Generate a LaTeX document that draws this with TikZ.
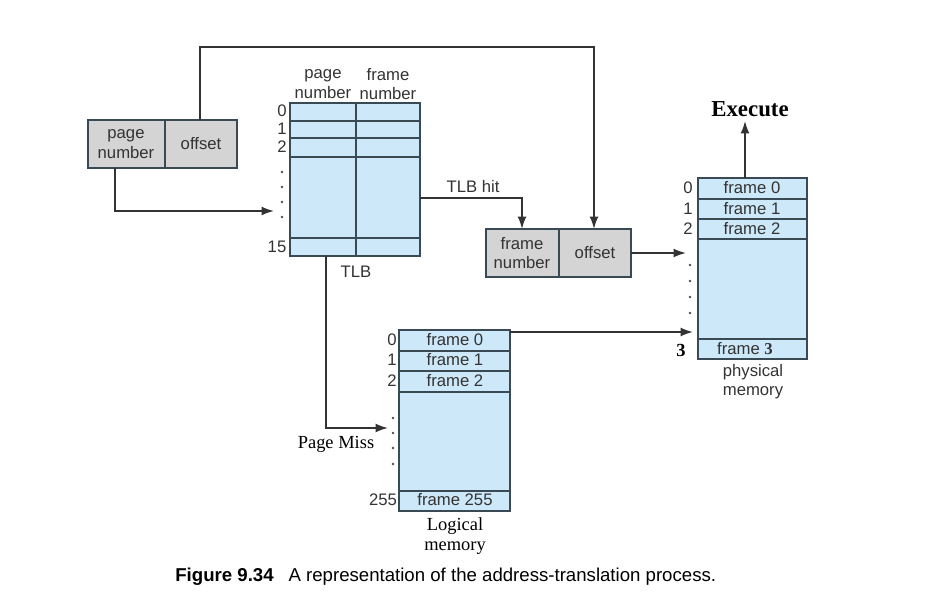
\documentclass[tikz,border=0pt]{standalone}
\usepackage{fontspec}
\setmainfont{Liberation Sans}
\newfontfamily\serifx{Liberation Serif}
\usetikzlibrary{arrows.meta}
\definecolor{memblue}{HTML}{CDE8F8}
\definecolor{boxgray}{HTML}{D4D4D4}
\definecolor{edge}{HTML}{3A4A55}
\begin{document}
\begin{tikzpicture}[x=0.02cm,y=-0.02cm,
  lbl/.style={font=\fontsize{9.5}{11}\selectfont,text=black!80,align=center,inner sep=0},
  slbl/.style={font=\serifx\fontsize{10.5}{11.5}\selectfont,align=center,inner sep=0},
  mem/.style={fill=memblue,draw=edge,line width=0.8pt},
  gbox/.style={fill=boxgray,draw=edge,line width=0.8pt},
  conn/.style={draw=black!80,line width=0.9pt},
  arr/.style={conn,-{Latex[length=7pt,width=5pt]}},
  dot/.style={circle,fill=black!70,inner sep=0,minimum size=1.6pt}]
\useasboundingbox (0,0) rectangle (940,607);
% logical address
\draw[gbox] (88,120) rectangle (237,168);
\draw[edge,line width=0.8pt] (165,120) -- (165,168);
\node[lbl] (pn) at (126,144) {page\\number};
\node[lbl] (off) at (201,144) {offset};
% TLB
\draw[mem] (290,103) rectangle (420,256);
\foreach \y in {121,138,157,238} \draw[edge,line width=0.8pt] (290,\y) -- (420,\y);
\draw[edge,line width=0.8pt] (356,103) -- (356,256);
\node[lbl] at (323,84) {page\\number};
\node[lbl] at (388,84) {frame\\number};
\node[lbl] at (282,111) {0};
\node[lbl] at (282,129) {1};
\node[lbl] at (282,147) {2};
\node[lbl] at (277,247) {15};
\foreach \y in {172,187,202,217} \node[dot] at (282,\y) {};
\node[lbl] (tlb) at (356,272) {TLB};
\coordinate (tlbin) at (274,211);
% frame/offset
\draw[gbox] (486,229) rectangle (631,277);
\draw[edge,line width=0.8pt] (559,229) -- (559,277);
\node[lbl] (fn) at (522,253) {frame\\number};
\node[lbl] (off2) at (595,253) {offset};
\node[lbl] at (473,187) {TLB hit};
% physical memory
\draw[mem] (698,178) rectangle (807,359);
\foreach \y in {199,219,239,339} \draw[edge,line width=0.8pt] (698,\y) -- (807,\y);
\node[lbl] at (752,188) {frame 0};
\node[lbl] at (752,209) {frame 1};
\node[lbl] at (752,229) {frame 2};
\node[lbl] at (745,349) {frame \textbf{\serifx 3}};
\node[lbl] at (688,188) {0};
\node[lbl] at (688,209) {1};
\node[lbl] at (688,229) {2};
\node[slbl,font=\serifx\bfseries\fontsize{10.5}{12}\selectfont] at (681,350) {3};
\foreach \y in {265,281,297,313} \node[dot] at (690,\y) {};
\node[lbl] at (753,382) {physical\\memory};
\coordinate (pmin) at (686,253);
\coordinate (pmin2) at (693,332);
\coordinate (pmtop) at (745,178);
\node[slbl,font=\serifx\bfseries\fontsize{13}{15}\selectfont] (exe) at (750,109) {Execute};
% logical memory
\draw[mem] (399,330) rectangle (510,511);
\foreach \y in {351,371,392,491} \draw[edge,line width=0.8pt] (399,\y) -- (510,\y);
\node[lbl] at (455,340) {frame 0};
\node[lbl] at (455,360) {frame 1};
\node[lbl] at (455,381) {frame 2};
\node[lbl] at (455,500) {frame 255};
\node[lbl] at (392,340) {0};
\node[lbl] at (392,360) {1};
\node[lbl] at (392,381) {2};
\node[lbl] at (383,500) {255};
\foreach \y in {418,433,448,464} \node[dot] at (393,\y) {};
\node[slbl] at (455,536) {Logical\\memory};
\node[slbl] at (336,444) {Page Miss};
\coordinate (lmin) at (388,428);
% connectors
\draw[arr] (200,120) -- (200,47) -- (594,47) -- (594,229);
\draw[arr] (115,168) -- (115,211) -- (tlbin);
\draw[arr] (420,198) -- (522,198) -- (522,229);
\draw[arr] (631,253) -- (pmin);
\draw[arr] (pmtop) -- (745,121);
\draw[arr] (510,332) -- (pmin2);
\draw[arr] (326,256) -- (326,428) -- (lmin);
% caption
\node[anchor=west,inner sep=0,font=\fontsize{10.6}{12}\selectfont] at (175,577) {\textbf{Figure 9.34}\hspace{0.8em}A representation of the address-translation process.};
\end{tikzpicture}
\end{document}
